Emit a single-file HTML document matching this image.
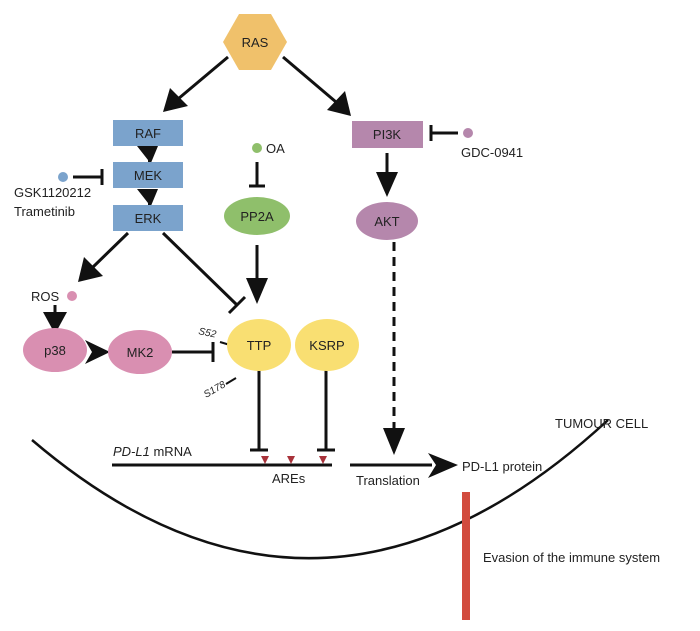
<!DOCTYPE html>
<html><head><meta charset="utf-8"><style>
html,body{margin:0;padding:0;background:#fff;}
svg{display:block;font-family:"Liberation Sans",Arial,sans-serif;}
</style></head><body>
<svg width="700" height="631" viewBox="0 0 700 631" xmlns="http://www.w3.org/2000/svg">
<g stroke="#111" stroke-width="3" fill="none">
<line x1="228" y1="57" x2="178" y2="99"/>
<line x1="283" y1="57" x2="336" y2="102"/>
<line x1="128" y1="233" x2="92" y2="268"/>
<line x1="163" y1="233" x2="237" y2="305"/>
<line x1="229" y1="313" x2="245" y2="297"/>
<line x1="73" y1="177" x2="102" y2="177"/>
<line x1="102" y1="169" x2="102" y2="185"/>
<line x1="257" y1="162" x2="257" y2="186"/>
<line x1="249" y1="186" x2="265" y2="186"/>
<line x1="257" y1="245" x2="257" y2="282"/>
<line x1="55" y1="305" x2="55" y2="315"/>
<line x1="172" y1="352" x2="213" y2="352"/>
<line x1="213" y1="342" x2="213" y2="362"/>
<line x1="259" y1="368" x2="259" y2="450"/>
<line x1="250" y1="450" x2="268" y2="450"/>
<line x1="326" y1="368" x2="326" y2="450"/>
<line x1="317" y1="450" x2="335" y2="450"/>
<line x1="112" y1="465" x2="332" y2="465"/>
<line x1="350" y1="465" x2="432" y2="465"/>
<line x1="430" y1="133" x2="458" y2="133"/>
<line x1="431" y1="125" x2="431" y2="141"/>
<line x1="387" y1="153" x2="387" y2="175"/>
<line x1="394" y1="242" x2="394" y2="430" stroke-dasharray="9,6"/>
<path d="M32,440 Q320,686 608,420" stroke-width="2.5"/>
<line x1="220" y1="342" x2="230" y2="345" stroke-width="2"/>
<line x1="226" y1="384" x2="236" y2="378" stroke-width="2"/>
</g>
<g fill="#111">
<polygon points="163,112 170,88 188,106"/>
<polygon points="351,116 327,110 345,91"/>
<polygon points="137,146 158,146 148,170 148,160"/>
<polygon points="137,189 158,189 148,213 148,203"/>
<polygon points="78,282 84,257 103,276"/>
<polygon points="246,278 268,278 257,304"/>
<polygon points="43,312 67,312 55,334"/>
<polygon points="85,340 110,352 85,364 92,352"/>
<polygon points="376,172 398,172 387,197"/>
<polygon points="383,428 405,428 394,455"/>
<polygon points="428,453 458,465 428,478 436,465"/>
</g>
<g fill="#a8323a">
<polygon points="261,456 269,456 265,464"/>
<polygon points="287,456 295,456 291,464"/>
<polygon points="319,456 327,456 323,464"/>
</g>
<polygon points="223,42 239,14 271,14 287,42 271,70 239,70" fill="#f0c16b"/>
<rect x="113" y="120" width="70" height="26" fill="#7ba3cc"/>
<rect x="113" y="162" width="70" height="26" fill="#7ba3cc"/>
<rect x="113" y="205" width="70" height="26" fill="#7ba3cc"/>
<rect x="352" y="121" width="71" height="27" fill="#b587ac"/>
<ellipse cx="257" cy="216" rx="33" ry="19" fill="#8fbf6b"/>
<ellipse cx="387" cy="221" rx="31" ry="19" fill="#b587ac"/>
<ellipse cx="55" cy="350" rx="32" ry="22" fill="#d98fb1"/>
<ellipse cx="140" cy="352" rx="32" ry="22" fill="#d98fb1"/>
<ellipse cx="259" cy="345" rx="32" ry="26" fill="#f9df72"/>
<ellipse cx="327" cy="345" rx="32" ry="26" fill="#f9df72"/>
<circle cx="63" cy="177" r="5" fill="#7ba3cc"/>
<circle cx="257" cy="148" r="5" fill="#8fbf6b"/>
<circle cx="72" cy="296" r="5" fill="#d98fb1"/>
<circle cx="468" cy="133" r="5" fill="#b587ac"/>
<rect x="462" y="492" width="8" height="128" fill="#d24b3e"/>
<g font-size="13" fill="#222" text-anchor="middle">
<text x="255" y="47">RAS</text>
<text x="148" y="138">RAF</text>
<text x="148" y="180">MEK</text>
<text x="148" y="223">ERK</text>
<text x="387" y="139">PI3K</text>
<text x="257" y="221">PP2A</text>
<text x="387" y="226">AKT</text>
<text x="55" y="355">p38</text>
<text x="140" y="357">MK2</text>
<text x="259" y="350">TTP</text>
<text x="327" y="350">KSRP</text>
</g>
<g font-size="13" fill="#222">
<text x="266" y="153">OA</text>
<text x="14" y="197">GSK1120212</text>
<text x="14" y="216">Trametinib</text>
<text x="31" y="301">ROS</text>
<text x="461" y="157">GDC-0941</text>
<text x="113" y="456"><tspan font-style="italic">PD-L1</tspan> mRNA</text>
<text x="272" y="483">AREs</text>
<text x="356" y="485">Translation</text>
<text x="462" y="471">PD-L1 protein</text>
<text x="555" y="428">TUMOUR CELL</text>
<text x="483" y="562">Evasion of the immune system</text>
<text x="198" y="334" font-size="10" font-style="italic" transform="rotate(12 198 334)">S52</text>
<text x="206" y="398" font-size="10" font-style="italic" transform="rotate(-30 206 398)">S178</text>
</g>
</svg>
</body></html>
